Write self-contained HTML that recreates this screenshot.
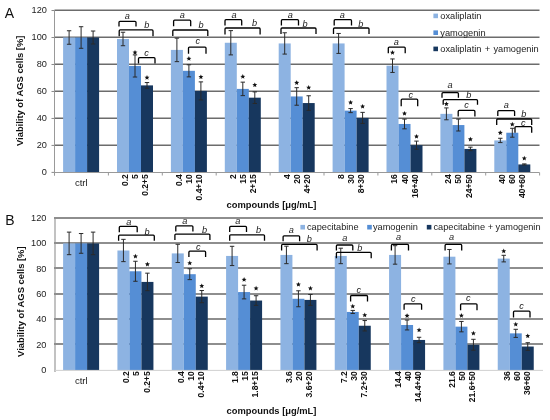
<!DOCTYPE html>
<html><head><meta charset="utf-8"><style>
html,body{margin:0;padding:0;background:#fff;}
svg{display:block;font-family:"Liberation Sans", sans-serif;will-change:transform;}
</style></head><body>
<svg width="550" height="420" viewBox="0 0 550 420">
<rect width="550" height="420" fill="#fff"/>
<text x="4.8" y="17.9" font-size="14" fill="#111">A</text>
<text x="5.2" y="224.6" font-size="14" fill="#111">B</text>
<text transform="translate(22.8,90.8) rotate(-90)" text-anchor="middle" font-size="9.4" font-weight="bold" fill="#111">Viability of AGS cells [%]</text>
<text transform="translate(23.9,301.7) rotate(-90)" text-anchor="middle" font-size="9.4" font-weight="bold" fill="#111">Viability of AGS cells [%]</text>
<text x="271.5" y="208.2" text-anchor="middle" font-size="9.35" font-weight="bold" fill="#111">compounds [μg/mL]</text>
<text x="271.5" y="413.9" text-anchor="middle" font-size="9.35" font-weight="bold" fill="#111">compounds [μg/mL]</text>

<line x1="54.5" y1="145.25" x2="539.5" y2="145.25" stroke="#6c6c6c" stroke-width="1.5"/>
<line x1="54.5" y1="118.25" x2="539.5" y2="118.25" stroke="#6c6c6c" stroke-width="1.5"/>
<line x1="54.5" y1="91.25" x2="539.5" y2="91.25" stroke="#6c6c6c" stroke-width="1.5"/>
<line x1="54.5" y1="64.25" x2="539.5" y2="64.25" stroke="#6c6c6c" stroke-width="1.5"/>
<line x1="54.5" y1="37.25" x2="539.5" y2="37.25" stroke="#6c6c6c" stroke-width="1.5"/>
<line x1="54.5" y1="10.25" x2="539.5" y2="10.25" stroke="#6c6c6c" stroke-width="1.5"/>
<text x="46.9" y="175.00" text-anchor="end" font-size="9.2" fill="#222">0</text>
<text x="46.9" y="148.02" text-anchor="end" font-size="9.2" fill="#222">20</text>
<text x="46.9" y="121.04" text-anchor="end" font-size="9.2" fill="#222">40</text>
<text x="46.9" y="94.06" text-anchor="end" font-size="9.2" fill="#222">60</text>
<text x="46.9" y="67.08" text-anchor="end" font-size="9.2" fill="#222">80</text>
<text x="46.9" y="40.10" text-anchor="end" font-size="9.2" fill="#222">100</text>
<text x="46.9" y="13.12" text-anchor="end" font-size="9.2" fill="#222">120</text>
<line x1="54.5" y1="10.5" x2="54.5" y2="175.5" stroke="#999" stroke-width="1"/><line x1="51.5" y1="172.40" x2="54.5" y2="172.40" stroke="#888" stroke-width="1"/><line x1="51.5" y1="145.42" x2="54.5" y2="145.42" stroke="#888" stroke-width="1"/><line x1="51.5" y1="118.44" x2="54.5" y2="118.44" stroke="#888" stroke-width="1"/><line x1="51.5" y1="91.46" x2="54.5" y2="91.46" stroke="#888" stroke-width="1"/><line x1="51.5" y1="64.48" x2="54.5" y2="64.48" stroke="#888" stroke-width="1"/><line x1="51.5" y1="37.50" x2="54.5" y2="37.50" stroke="#888" stroke-width="1"/><line x1="51.5" y1="10.52" x2="54.5" y2="10.52" stroke="#888" stroke-width="1"/>
<rect x="63.10" y="37.50" width="12.00" height="134.90" fill="#8DB3E2"/>
<rect x="75.10" y="37.50" width="12.00" height="134.90" fill="#558ED5"/>
<rect x="87.10" y="37.50" width="12.00" height="134.90" fill="#17375E"/>
<rect x="117.00" y="38.98" width="12.00" height="133.42" fill="#8DB3E2"/>
<rect x="129.00" y="65.96" width="12.00" height="106.44" fill="#558ED5"/>
<rect x="141.00" y="85.39" width="12.00" height="87.01" fill="#17375E"/>
<rect x="170.90" y="49.91" width="12.00" height="122.49" fill="#8DB3E2"/>
<rect x="182.90" y="70.82" width="12.00" height="101.58" fill="#558ED5"/>
<rect x="194.90" y="90.92" width="12.00" height="81.48" fill="#17375E"/>
<rect x="224.80" y="42.76" width="12.00" height="129.64" fill="#8DB3E2"/>
<rect x="236.80" y="88.90" width="12.00" height="83.50" fill="#558ED5"/>
<rect x="248.80" y="97.67" width="12.00" height="74.73" fill="#17375E"/>
<rect x="278.70" y="43.44" width="12.00" height="128.96" fill="#8DB3E2"/>
<rect x="290.70" y="96.45" width="12.00" height="75.95" fill="#558ED5"/>
<rect x="302.70" y="103.06" width="12.00" height="69.34" fill="#17375E"/>
<rect x="332.60" y="43.44" width="12.00" height="128.96" fill="#8DB3E2"/>
<rect x="344.60" y="110.62" width="12.00" height="61.78" fill="#558ED5"/>
<rect x="356.60" y="117.90" width="12.00" height="54.50" fill="#17375E"/>
<rect x="386.50" y="65.69" width="12.00" height="106.71" fill="#8DB3E2"/>
<rect x="398.50" y="123.97" width="12.00" height="48.43" fill="#558ED5"/>
<rect x="410.50" y="145.15" width="12.00" height="27.25" fill="#17375E"/>
<rect x="440.40" y="113.85" width="12.00" height="58.55" fill="#8DB3E2"/>
<rect x="452.40" y="125.05" width="12.00" height="47.35" fill="#558ED5"/>
<rect x="464.40" y="148.93" width="12.00" height="23.47" fill="#17375E"/>
<rect x="494.30" y="140.43" width="12.00" height="31.97" fill="#8DB3E2"/>
<rect x="506.30" y="132.74" width="12.00" height="39.66" fill="#558ED5"/>
<rect x="518.30" y="164.44" width="12.00" height="7.96" fill="#17375E"/>
<path d="M69.10,30.75 V44.25 M66.90,30.75 H71.30 M66.90,44.25 H71.30" stroke="#2a2a2a" stroke-width="1" fill="none"/>
<path d="M81.10,26.71 V48.29 M78.90,26.71 H83.30 M78.90,48.29 H83.30" stroke="#2a2a2a" stroke-width="1" fill="none"/>
<path d="M93.10,31.02 V43.98 M90.90,31.02 H95.30 M90.90,43.98 H95.30" stroke="#2a2a2a" stroke-width="1" fill="none"/>
<path d="M123.00,32.24 V45.73 M120.80,32.24 H125.20 M120.80,45.73 H125.20" stroke="#2a2a2a" stroke-width="1" fill="none"/>
<path d="M135.00,54.90 V77.03 M132.80,54.90 H137.20 M132.80,77.03 H137.20" stroke="#2a2a2a" stroke-width="1" fill="none"/>
<path d="M147.00,82.56 V88.22 M144.80,82.56 H149.20 M144.80,88.22 H149.20" stroke="#2a2a2a" stroke-width="1" fill="none"/>
<path d="M176.90,38.17 V61.65 M174.70,38.17 H179.10 M174.70,61.65 H179.10" stroke="#2a2a2a" stroke-width="1" fill="none"/>
<path d="M188.90,64.75 V76.89 M186.70,64.75 H191.10 M186.70,76.89 H191.10" stroke="#2a2a2a" stroke-width="1" fill="none"/>
<path d="M200.90,81.88 V99.96 M198.70,81.88 H203.10 M198.70,99.96 H203.10" stroke="#2a2a2a" stroke-width="1" fill="none"/>
<path d="M230.80,30.62 V54.90 M228.60,30.62 H233.00 M228.60,54.90 H233.00" stroke="#2a2a2a" stroke-width="1" fill="none"/>
<path d="M242.80,82.15 V95.64 M240.60,82.15 H245.00 M240.60,95.64 H245.00" stroke="#2a2a2a" stroke-width="1" fill="none"/>
<path d="M254.80,91.86 V103.47 M252.60,91.86 H257.00 M252.60,103.47 H257.00" stroke="#2a2a2a" stroke-width="1" fill="none"/>
<path d="M284.70,32.78 V54.09 M282.50,32.78 H286.90 M282.50,54.09 H286.90" stroke="#2a2a2a" stroke-width="1" fill="none"/>
<path d="M296.70,87.68 V105.22 M294.50,87.68 H298.90 M294.50,105.22 H298.90" stroke="#2a2a2a" stroke-width="1" fill="none"/>
<path d="M308.70,95.78 V110.35 M306.50,95.78 H310.90 M306.50,110.35 H310.90" stroke="#2a2a2a" stroke-width="1" fill="none"/>
<path d="M338.60,33.45 V53.42 M336.40,33.45 H340.80 M336.40,53.42 H340.80" stroke="#2a2a2a" stroke-width="1" fill="none"/>
<path d="M350.60,108.59 V112.64 M348.40,108.59 H352.80 M348.40,112.64 H352.80" stroke="#2a2a2a" stroke-width="1" fill="none"/>
<path d="M362.60,112.37 V123.43 M360.40,112.37 H364.80 M360.40,123.43 H364.80" stroke="#2a2a2a" stroke-width="1" fill="none"/>
<path d="M392.50,58.95 V72.44 M390.30,58.95 H394.70 M390.30,72.44 H394.70" stroke="#2a2a2a" stroke-width="1" fill="none"/>
<path d="M404.50,119.11 V128.83 M402.30,119.11 H406.70 M402.30,128.83 H406.70" stroke="#2a2a2a" stroke-width="1" fill="none"/>
<path d="M416.50,141.10 V149.20 M414.30,141.10 H418.70 M414.30,149.20 H418.70" stroke="#2a2a2a" stroke-width="1" fill="none"/>
<path d="M446.40,107.92 V119.79 M444.20,107.92 H448.60 M444.20,119.79 H448.60" stroke="#2a2a2a" stroke-width="1" fill="none"/>
<path d="M458.40,119.11 V130.99 M456.20,119.11 H460.60 M456.20,130.99 H460.60" stroke="#2a2a2a" stroke-width="1" fill="none"/>
<path d="M470.40,147.17 V150.68 M468.20,147.17 H472.60 M468.20,150.68 H472.60" stroke="#2a2a2a" stroke-width="1" fill="none"/>
<path d="M500.30,138.27 V142.59 M498.10,138.27 H502.50 M498.10,142.59 H502.50" stroke="#2a2a2a" stroke-width="1" fill="none"/>
<path d="M512.30,128.29 V137.19 M510.10,128.29 H514.50 M510.10,137.19 H514.50" stroke="#2a2a2a" stroke-width="1" fill="none"/>
<path d="M524.30,163.90 V164.98 M522.10,163.90 H526.50 M522.10,164.98 H526.50" stroke="#2a2a2a" stroke-width="1" fill="none"/>
<line x1="54.5" y1="172.5" x2="539.5" y2="172.5" stroke="#999" stroke-width="1"/><line x1="54.50" y1="172.5" x2="54.50" y2="175.5" stroke="#999" stroke-width="1"/><line x1="108.40" y1="172.5" x2="108.40" y2="175.5" stroke="#999" stroke-width="1"/><line x1="162.30" y1="172.5" x2="162.30" y2="175.5" stroke="#999" stroke-width="1"/><line x1="216.20" y1="172.5" x2="216.20" y2="175.5" stroke="#999" stroke-width="1"/><line x1="270.10" y1="172.5" x2="270.10" y2="175.5" stroke="#999" stroke-width="1"/><line x1="324.00" y1="172.5" x2="324.00" y2="175.5" stroke="#999" stroke-width="1"/><line x1="377.90" y1="172.5" x2="377.90" y2="175.5" stroke="#999" stroke-width="1"/><line x1="431.80" y1="172.5" x2="431.80" y2="175.5" stroke="#999" stroke-width="1"/><line x1="485.70" y1="172.5" x2="485.70" y2="175.5" stroke="#999" stroke-width="1"/><line x1="539.60" y1="172.5" x2="539.60" y2="175.5" stroke="#999" stroke-width="1"/>
<polygon points="135.00,49.90 135.69,51.55 137.47,51.70 136.11,52.86 136.53,54.60 135.00,53.67 133.47,54.60 133.89,52.86 132.53,51.70 134.31,51.55" fill="#111"/>
<polygon points="147.00,75.00 147.69,76.65 149.47,76.80 148.11,77.96 148.53,79.70 147.00,78.77 145.47,79.70 145.89,77.96 144.53,76.80 146.31,76.65" fill="#111"/>
<polygon points="188.90,56.10 189.59,57.75 191.37,57.90 190.01,59.06 190.43,60.80 188.90,59.87 187.37,60.80 187.79,59.06 186.43,57.90 188.21,57.75" fill="#111"/>
<polygon points="200.90,74.40 201.59,76.05 203.37,76.20 202.01,77.36 202.43,79.10 200.90,78.17 199.37,79.10 199.79,77.36 198.43,76.20 200.21,76.05" fill="#111"/>
<polygon points="242.80,74.10 243.49,75.75 245.27,75.90 243.91,77.06 244.33,78.80 242.80,77.87 241.27,78.80 241.69,77.06 240.33,75.90 242.11,75.75" fill="#111"/>
<polygon points="254.80,82.40 255.49,84.05 257.27,84.20 255.91,85.36 256.33,87.10 254.80,86.17 253.27,87.10 253.69,85.36 252.33,84.20 254.11,84.05" fill="#111"/>
<polygon points="296.70,80.20 297.39,81.85 299.17,82.00 297.81,83.16 298.23,84.90 296.70,83.97 295.17,84.90 295.59,83.16 294.23,82.00 296.01,81.85" fill="#111"/>
<polygon points="308.70,85.00 309.39,86.65 311.17,86.80 309.81,87.96 310.23,89.70 308.70,88.77 307.17,89.70 307.59,87.96 306.23,86.80 308.01,86.65" fill="#111"/>
<polygon points="350.60,99.90 351.29,101.55 353.07,101.70 351.71,102.86 352.13,104.60 350.60,103.67 349.07,104.60 349.49,102.86 348.13,101.70 349.91,101.55" fill="#111"/>
<polygon points="362.60,103.90 363.29,105.55 365.07,105.70 363.71,106.86 364.13,108.60 362.60,107.67 361.07,108.60 361.49,106.86 360.13,105.70 361.91,105.55" fill="#111"/>
<polygon points="392.50,50.00 393.19,51.65 394.97,51.80 393.61,52.96 394.03,54.70 392.50,53.77 390.97,54.70 391.39,52.96 390.03,51.80 391.81,51.65" fill="#111"/>
<polygon points="404.50,110.90 405.19,112.55 406.97,112.70 405.61,113.86 406.03,115.60 404.50,114.67 402.97,115.60 403.39,113.86 402.03,112.70 403.81,112.55" fill="#111"/>
<polygon points="416.50,133.90 417.19,135.55 418.97,135.70 417.61,136.86 418.03,138.60 416.50,137.67 414.97,138.60 415.39,136.86 414.03,135.70 415.81,135.55" fill="#111"/>
<polygon points="446.40,101.40 447.09,103.05 448.87,103.20 447.51,104.36 447.93,106.10 446.40,105.17 444.87,106.10 445.29,104.36 443.93,103.20 445.71,103.05" fill="#111"/>
<polygon points="470.40,136.70 471.09,138.35 472.87,138.50 471.51,139.66 471.93,141.40 470.40,140.47 468.87,141.40 469.29,139.66 467.93,138.50 469.71,138.35" fill="#111"/>
<polygon points="500.30,130.20 500.99,131.85 502.77,132.00 501.41,133.16 501.83,134.90 500.30,133.97 498.77,134.90 499.19,133.16 497.83,132.00 499.61,131.85" fill="#111"/>
<polygon points="512.30,121.80 512.99,123.45 514.77,123.60 513.41,124.76 513.83,126.50 512.30,125.57 510.77,126.50 511.19,124.76 509.83,123.60 511.61,123.45" fill="#111"/>
<polygon points="524.30,155.80 524.99,157.45 526.77,157.60 525.41,158.76 525.83,160.50 524.30,159.57 522.77,160.50 523.19,158.76 521.83,157.60 523.61,157.45" fill="#111"/>
<path d="M119.0,26.6 L119.0,22.3 Q119.0,21.3 120.0,21.3 L135.0,21.3 Q136.0,21.3 136.0,22.3 L136.0,26.6" fill="none" stroke="#000" stroke-width="1.3"/>
<text x="127.3" y="19.3" text-anchor="middle" font-size="9.2" font-style="italic" fill="#222">a</text>
<path d="M119.2,36.2 L119.2,30.9 Q119.2,29.9 120.2,29.9 L152.0,29.9 Q153.0,29.9 153.0,30.9 L153.0,36.2" fill="none" stroke="#000" stroke-width="1.3"/>
<text x="146.9" y="28.3" text-anchor="middle" font-size="9.2" font-style="italic" fill="#222">b</text>
<path d="M138.5,63.5 L138.5,58.7 Q138.5,57.7 139.5,57.7 L154.0,57.7 Q155.0,57.7 155.0,58.7 L155.0,63.5" fill="none" stroke="#000" stroke-width="1.3"/>
<text x="146.5" y="55.8" text-anchor="middle" font-size="9.2" font-style="italic" fill="#222">c</text>
<path d="M173.6,26.3 L173.6,21.2 Q173.6,20.2 174.6,20.2 L189.7,20.2 Q190.7,20.2 190.7,21.2 L190.7,26.3" fill="none" stroke="#000" stroke-width="1.3"/>
<text x="182.3" y="18.3" text-anchor="middle" font-size="9.2" font-style="italic" fill="#222">a</text>
<path d="M172.8,36.1 L172.8,31.0 Q172.8,30.0 173.8,30.0 L206.8,30.0 Q207.8,30.0 207.8,31.0 L207.8,36.1" fill="none" stroke="#000" stroke-width="1.3"/>
<text x="201.0" y="28.3" text-anchor="middle" font-size="9.2" font-style="italic" fill="#222">b</text>
<path d="M188.5,53.7 L188.5,48.1 Q188.5,47.1 189.5,47.1 L205.0,47.1 Q206.0,47.1 206.0,48.1 L206.0,53.7" fill="none" stroke="#000" stroke-width="1.3"/>
<text x="197.7" y="43.9" text-anchor="middle" font-size="9.2" font-style="italic" fill="#222">c</text>
<path d="M225.0,25.6 L225.0,20.7 Q225.0,19.7 226.0,19.7 L240.7,19.7 Q241.7,19.7 241.7,20.7 L241.7,25.6" fill="none" stroke="#000" stroke-width="1.3"/>
<text x="234.0" y="18.3" text-anchor="middle" font-size="9.2" font-style="italic" fill="#222">a</text>
<path d="M225.0,34.4 L225.0,29.0 Q225.0,28.0 226.0,28.0 L259.1,28.0 Q260.1,28.0 260.1,29.0 L260.1,34.4" fill="none" stroke="#000" stroke-width="1.3"/>
<text x="254.6" y="26.1" text-anchor="middle" font-size="9.2" font-style="italic" fill="#222">b</text>
<path d="M281.4,25.6 L281.4,20.7 Q281.4,19.7 282.4,19.7 L297.5,19.7 Q298.5,19.7 298.5,20.7 L298.5,25.6" fill="none" stroke="#000" stroke-width="1.3"/>
<text x="290.4" y="17.6" text-anchor="middle" font-size="9.2" font-style="italic" fill="#222">a</text>
<path d="M281.0,34.0 L281.0,29.0 Q281.0,28.0 282.0,28.0 L315.0,28.0 Q316.0,28.0 316.0,29.0 L316.0,34.0" fill="none" stroke="#000" stroke-width="1.3"/>
<text x="305.0" y="27.0" text-anchor="middle" font-size="9.2" font-style="italic" fill="#222">b</text>
<path d="M334.2,25.6 L334.2,20.7 Q334.2,19.7 335.2,19.7 L350.5,19.7 Q351.5,19.7 351.5,20.7 L351.5,25.6" fill="none" stroke="#000" stroke-width="1.3"/>
<text x="342.3" y="17.6" text-anchor="middle" font-size="9.2" font-style="italic" fill="#222">a</text>
<path d="M333.5,34.0 L333.5,29.0 Q333.5,28.0 334.5,28.0 L368.0,28.0 Q369.0,28.0 369.0,29.0 L369.0,34.0" fill="none" stroke="#000" stroke-width="1.3"/>
<text x="360.9" y="27.0" text-anchor="middle" font-size="9.2" font-style="italic" fill="#222">b</text>
<path d="M388.3,53.2 L388.3,48.1 Q388.3,47.1 389.3,47.1 L404.2,47.1 Q405.2,47.1 405.2,48.1 L405.2,53.2" fill="none" stroke="#000" stroke-width="1.3"/>
<text x="396.4" y="45.0" text-anchor="middle" font-size="9.2" font-style="italic" fill="#222">a</text>
<path d="M401.2,106.2 L401.2,100.2 Q401.2,99.2 402.2,99.2 L416.7,99.2 Q417.7,99.2 417.7,100.2 L417.7,106.2" fill="none" stroke="#000" stroke-width="1.3"/>
<text x="410.7" y="97.8" text-anchor="middle" font-size="9.2" font-style="italic" fill="#222">c</text>
<path d="M442.0,97.7 L442.0,93.7 Q442.0,92.7 443.0,92.7 L457.4,92.7 Q458.4,92.7 458.4,93.7 L458.4,97.7" fill="none" stroke="#000" stroke-width="1.3"/>
<text x="450.1" y="87.7" text-anchor="middle" font-size="9.2" font-style="italic" fill="#222">a</text>
<path d="M443.2,104.8 L443.2,100.7 Q443.2,99.7 444.2,99.7 L476.5,99.7 Q477.5,99.7 477.5,100.7 L477.5,104.8" fill="none" stroke="#000" stroke-width="1.3"/>
<text x="468.7" y="98.2" text-anchor="middle" font-size="9.2" font-style="italic" fill="#222">b</text>
<path d="M458.2,116.6 L458.2,111.4 Q458.2,110.4 459.2,110.4 L473.9,110.4 Q474.9,110.4 474.9,111.4 L474.9,116.6" fill="none" stroke="#000" stroke-width="1.3"/>
<text x="466.5" y="108.3" text-anchor="middle" font-size="9.2" font-style="italic" fill="#222">c</text>
<path d="M497.8,116.1 L497.8,111.6 Q497.8,110.6 498.8,110.6 L513.6,110.6 Q514.6,110.6 514.6,111.6 L514.6,116.1" fill="none" stroke="#000" stroke-width="1.3"/>
<text x="506.3" y="107.5" text-anchor="middle" font-size="9.2" font-style="italic" fill="#222">a</text>
<path d="M496.7,125.1 L496.7,120.0 Q496.7,119.0 497.7,119.0 L530.7,119.0 Q531.7,119.0 531.7,120.0 L531.7,125.1" fill="none" stroke="#000" stroke-width="1.3"/>
<text x="523.8" y="116.8" text-anchor="middle" font-size="9.2" font-style="italic" fill="#222">b</text>
<path d="M515.0,132.8 L515.0,127.6 Q515.0,126.6 516.0,126.6 L530.7,126.6 Q531.7,126.6 531.7,127.6 L531.7,132.8" fill="none" stroke="#000" stroke-width="1.3"/>
<text x="523.4" y="125.6" text-anchor="middle" font-size="9.2" font-style="italic" fill="#222">c</text>
<text x="81.3" y="186.1" text-anchor="middle" font-size="9.6" fill="#222">ctrl</text>
<text transform="translate(127.95,174.2) rotate(-90)" text-anchor="end" font-size="8.5" font-weight="bold" fill="#111">0.2</text>
<text transform="translate(138.05,174.2) rotate(-90)" text-anchor="end" font-size="8.5" font-weight="bold" fill="#111">5</text>
<text transform="translate(148.15,174.2) rotate(-90)" text-anchor="end" font-size="8.5" font-weight="bold" fill="#111">0.2+5</text>
<text transform="translate(181.85,174.2) rotate(-90)" text-anchor="end" font-size="8.5" font-weight="bold" fill="#111">0.4</text>
<text transform="translate(191.95,174.2) rotate(-90)" text-anchor="end" font-size="8.5" font-weight="bold" fill="#111">10</text>
<text transform="translate(202.05,174.2) rotate(-90)" text-anchor="end" font-size="8.5" font-weight="bold" fill="#111">0.4+10</text>
<text transform="translate(235.75,174.2) rotate(-90)" text-anchor="end" font-size="8.5" font-weight="bold" fill="#111">2</text>
<text transform="translate(245.85,174.2) rotate(-90)" text-anchor="end" font-size="8.5" font-weight="bold" fill="#111">15</text>
<text transform="translate(255.95,174.2) rotate(-90)" text-anchor="end" font-size="8.5" font-weight="bold" fill="#111">2+15</text>
<text transform="translate(289.65,174.2) rotate(-90)" text-anchor="end" font-size="8.5" font-weight="bold" fill="#111">4</text>
<text transform="translate(299.75,174.2) rotate(-90)" text-anchor="end" font-size="8.5" font-weight="bold" fill="#111">20</text>
<text transform="translate(309.85,174.2) rotate(-90)" text-anchor="end" font-size="8.5" font-weight="bold" fill="#111">4+20</text>
<text transform="translate(343.55,174.2) rotate(-90)" text-anchor="end" font-size="8.5" font-weight="bold" fill="#111">8</text>
<text transform="translate(353.65,174.2) rotate(-90)" text-anchor="end" font-size="8.5" font-weight="bold" fill="#111">30</text>
<text transform="translate(363.75,174.2) rotate(-90)" text-anchor="end" font-size="8.5" font-weight="bold" fill="#111">8+30</text>
<text transform="translate(397.45,174.2) rotate(-90)" text-anchor="end" font-size="8.5" font-weight="bold" fill="#111">16</text>
<text transform="translate(407.55,174.2) rotate(-90)" text-anchor="end" font-size="8.5" font-weight="bold" fill="#111">40</text>
<text transform="translate(417.65,174.2) rotate(-90)" text-anchor="end" font-size="8.5" font-weight="bold" fill="#111">16+40</text>
<text transform="translate(451.35,174.2) rotate(-90)" text-anchor="end" font-size="8.5" font-weight="bold" fill="#111">24</text>
<text transform="translate(461.45,174.2) rotate(-90)" text-anchor="end" font-size="8.5" font-weight="bold" fill="#111">50</text>
<text transform="translate(471.55,174.2) rotate(-90)" text-anchor="end" font-size="8.5" font-weight="bold" fill="#111">24+50</text>
<text transform="translate(505.25,174.2) rotate(-90)" text-anchor="end" font-size="8.5" font-weight="bold" fill="#111">40</text>
<text transform="translate(515.35,174.2) rotate(-90)" text-anchor="end" font-size="8.5" font-weight="bold" fill="#111">60</text>
<text transform="translate(525.45,174.2) rotate(-90)" text-anchor="end" font-size="8.5" font-weight="bold" fill="#111">40+60</text>
<line x1="55" y1="217" x2="55" y2="372" stroke="#c2c2c2" stroke-width="2"/>
<line x1="54.0" y1="344.00" x2="543.0" y2="344.00" stroke="#8e8e8e" stroke-width="2.0"/>
<line x1="54.0" y1="319.00" x2="543.0" y2="319.00" stroke="#8e8e8e" stroke-width="2.0"/>
<line x1="54.0" y1="294.00" x2="543.0" y2="294.00" stroke="#8e8e8e" stroke-width="2.0"/>
<line x1="54.0" y1="268.00" x2="543.0" y2="268.00" stroke="#8e8e8e" stroke-width="2.0"/>
<line x1="54.0" y1="243.00" x2="543.0" y2="243.00" stroke="#8e8e8e" stroke-width="2.0"/>
<line x1="54.0" y1="218.00" x2="543.0" y2="218.00" stroke="#8e8e8e" stroke-width="2.0"/>
<text x="46.4" y="373.10" text-anchor="end" font-size="9.2" fill="#222">0</text>
<text x="46.4" y="347.76" text-anchor="end" font-size="9.2" fill="#222">20</text>
<text x="46.4" y="322.42" text-anchor="end" font-size="9.2" fill="#222">40</text>
<text x="46.4" y="297.08" text-anchor="end" font-size="9.2" fill="#222">60</text>
<text x="46.4" y="271.74" text-anchor="end" font-size="9.2" fill="#222">80</text>
<text x="46.4" y="246.40" text-anchor="end" font-size="9.2" fill="#222">100</text>
<text x="46.4" y="221.06" text-anchor="end" font-size="9.2" fill="#222">120</text>

<rect x="63.10" y="243.40" width="12.00" height="126.70" fill="#8DB3E2"/>
<rect x="75.10" y="243.40" width="12.00" height="126.70" fill="#558ED5"/>
<rect x="87.10" y="243.40" width="12.00" height="126.70" fill="#17375E"/>
<rect x="117.43" y="250.50" width="12.00" height="119.60" fill="#8DB3E2"/>
<rect x="129.43" y="271.27" width="12.00" height="98.83" fill="#558ED5"/>
<rect x="141.43" y="281.92" width="12.00" height="88.18" fill="#17375E"/>
<rect x="171.76" y="253.41" width="12.00" height="116.69" fill="#8DB3E2"/>
<rect x="183.76" y="274.19" width="12.00" height="95.91" fill="#558ED5"/>
<rect x="195.76" y="296.61" width="12.00" height="73.49" fill="#17375E"/>
<rect x="226.09" y="255.94" width="12.00" height="114.16" fill="#8DB3E2"/>
<rect x="238.09" y="292.05" width="12.00" height="78.05" fill="#558ED5"/>
<rect x="250.09" y="300.54" width="12.00" height="69.56" fill="#17375E"/>
<rect x="280.42" y="254.93" width="12.00" height="115.17" fill="#8DB3E2"/>
<rect x="292.42" y="298.77" width="12.00" height="71.33" fill="#558ED5"/>
<rect x="304.42" y="299.91" width="12.00" height="70.19" fill="#17375E"/>
<rect x="334.75" y="255.94" width="12.00" height="114.16" fill="#8DB3E2"/>
<rect x="346.75" y="311.94" width="12.00" height="58.16" fill="#558ED5"/>
<rect x="358.75" y="325.75" width="12.00" height="44.34" fill="#17375E"/>
<rect x="389.08" y="254.93" width="12.00" height="115.17" fill="#8DB3E2"/>
<rect x="401.08" y="324.99" width="12.00" height="45.11" fill="#558ED5"/>
<rect x="413.08" y="339.95" width="12.00" height="30.15" fill="#17375E"/>
<rect x="443.41" y="256.70" width="12.00" height="113.40" fill="#8DB3E2"/>
<rect x="455.41" y="326.64" width="12.00" height="43.46" fill="#558ED5"/>
<rect x="467.41" y="344.76" width="12.00" height="25.34" fill="#17375E"/>
<rect x="497.74" y="258.60" width="12.00" height="111.50" fill="#8DB3E2"/>
<rect x="509.74" y="333.36" width="12.00" height="36.74" fill="#558ED5"/>
<rect x="521.74" y="346.53" width="12.00" height="23.57" fill="#17375E"/>
<path d="M69.10,232.12 V254.68 M66.90,232.12 H71.30 M66.90,254.68 H71.30" stroke="#2a2a2a" stroke-width="1" fill="none"/>
<path d="M81.10,233.52 V253.28 M78.90,233.52 H83.30 M78.90,253.28 H83.30" stroke="#2a2a2a" stroke-width="1" fill="none"/>
<path d="M93.10,232.12 V254.68 M90.90,232.12 H95.30 M90.90,254.68 H95.30" stroke="#2a2a2a" stroke-width="1" fill="none"/>
<path d="M123.43,239.35 V261.64 M121.23,239.35 H125.63 M121.23,261.64 H125.63" stroke="#2a2a2a" stroke-width="1" fill="none"/>
<path d="M135.43,261.26 V281.28 M133.23,261.26 H137.63 M133.23,281.28 H137.63" stroke="#2a2a2a" stroke-width="1" fill="none"/>
<path d="M147.43,273.17 V290.66 M145.23,273.17 H149.63 M145.23,290.66 H149.63" stroke="#2a2a2a" stroke-width="1" fill="none"/>
<path d="M177.76,244.29 V262.53 M175.56,244.29 H179.96 M175.56,262.53 H179.96" stroke="#2a2a2a" stroke-width="1" fill="none"/>
<path d="M189.76,268.74 V279.64 M187.56,268.74 H191.96 M187.56,279.64 H191.96" stroke="#2a2a2a" stroke-width="1" fill="none"/>
<path d="M201.76,290.53 V302.70 M199.56,290.53 H203.96 M199.56,302.70 H203.96" stroke="#2a2a2a" stroke-width="1" fill="none"/>
<path d="M232.09,246.31 V265.57 M229.89,246.31 H234.29 M229.89,265.57 H234.29" stroke="#2a2a2a" stroke-width="1" fill="none"/>
<path d="M244.09,285.21 V298.89 M241.89,285.21 H246.29 M241.89,298.89 H246.29" stroke="#2a2a2a" stroke-width="1" fill="none"/>
<path d="M256.09,295.73 V305.36 M253.89,295.73 H258.29 M253.89,305.36 H258.29" stroke="#2a2a2a" stroke-width="1" fill="none"/>
<path d="M286.42,246.19 V263.67 M284.22,246.19 H288.62 M284.22,263.67 H288.62" stroke="#2a2a2a" stroke-width="1" fill="none"/>
<path d="M298.42,290.79 V306.75 M296.22,290.79 H300.62 M296.22,306.75 H300.62" stroke="#2a2a2a" stroke-width="1" fill="none"/>
<path d="M310.42,294.46 V305.36 M308.22,294.46 H312.62 M308.22,305.36 H312.62" stroke="#2a2a2a" stroke-width="1" fill="none"/>
<path d="M340.75,248.21 V263.67 M338.55,248.21 H342.95 M338.55,263.67 H342.95" stroke="#2a2a2a" stroke-width="1" fill="none"/>
<path d="M352.75,310.42 V313.47 M350.55,310.42 H354.95 M350.55,313.47 H354.95" stroke="#2a2a2a" stroke-width="1" fill="none"/>
<path d="M364.75,320.56 V330.95 M362.55,320.56 H366.95 M362.55,330.95 H366.95" stroke="#2a2a2a" stroke-width="1" fill="none"/>
<path d="M395.08,245.68 V264.18 M392.88,245.68 H397.28 M392.88,264.18 H397.28" stroke="#2a2a2a" stroke-width="1" fill="none"/>
<path d="M407.08,320.05 V329.94 M404.88,320.05 H409.28 M404.88,329.94 H409.28" stroke="#2a2a2a" stroke-width="1" fill="none"/>
<path d="M419.08,337.28 V342.61 M416.88,337.28 H421.28 M416.88,342.61 H421.28" stroke="#2a2a2a" stroke-width="1" fill="none"/>
<path d="M449.41,249.48 V263.93 M447.21,249.48 H451.61 M447.21,263.93 H451.61" stroke="#2a2a2a" stroke-width="1" fill="none"/>
<path d="M461.41,321.45 V331.84 M459.21,321.45 H463.61 M459.21,331.84 H463.61" stroke="#2a2a2a" stroke-width="1" fill="none"/>
<path d="M473.41,339.31 V350.21 M471.21,339.31 H475.61 M471.21,350.21 H475.61" stroke="#2a2a2a" stroke-width="1" fill="none"/>
<path d="M503.74,255.31 V261.90 M501.54,255.31 H505.94 M501.54,261.90 H505.94" stroke="#2a2a2a" stroke-width="1" fill="none"/>
<path d="M515.74,329.30 V337.41 M513.54,329.30 H517.94 M513.54,337.41 H517.94" stroke="#2a2a2a" stroke-width="1" fill="none"/>
<path d="M527.74,342.73 V350.33 M525.54,342.73 H529.94 M525.54,350.33 H529.94" stroke="#2a2a2a" stroke-width="1" fill="none"/>
<line x1="55" y1="370.4" x2="543" y2="370.4" stroke="#d0d0d0" stroke-width="1"/>
<polygon points="135.43,253.80 136.12,255.45 137.90,255.60 136.54,256.76 136.96,258.50 135.43,257.57 133.90,258.50 134.32,256.76 132.96,255.60 134.74,255.45" fill="#111"/>
<polygon points="147.43,261.70 148.12,263.35 149.90,263.50 148.54,264.66 148.96,266.40 147.43,265.47 145.90,266.40 146.32,264.66 144.96,263.50 146.74,263.35" fill="#111"/>
<polygon points="189.76,260.60 190.45,262.25 192.23,262.40 190.87,263.56 191.29,265.30 189.76,264.37 188.23,265.30 188.65,263.56 187.29,262.40 189.07,262.25" fill="#111"/>
<polygon points="201.76,283.40 202.45,285.05 204.23,285.20 202.87,286.36 203.29,288.10 201.76,287.17 200.23,288.10 200.65,286.36 199.29,285.20 201.07,285.05" fill="#111"/>
<polygon points="244.09,277.10 244.78,278.75 246.56,278.90 245.20,280.06 245.62,281.80 244.09,280.87 242.56,281.80 242.98,280.06 241.62,278.90 243.40,278.75" fill="#111"/>
<polygon points="256.09,285.80 256.78,287.45 258.56,287.60 257.20,288.76 257.62,290.50 256.09,289.57 254.56,290.50 254.98,288.76 253.62,287.60 255.40,287.45" fill="#111"/>
<polygon points="298.42,281.90 299.11,283.55 300.89,283.70 299.53,284.86 299.95,286.60 298.42,285.67 296.89,286.60 297.31,284.86 295.95,283.70 297.73,283.55" fill="#111"/>
<polygon points="310.42,285.80 311.11,287.45 312.89,287.60 311.53,288.76 311.95,290.50 310.42,289.57 308.89,290.50 309.31,288.76 307.95,287.60 309.73,287.45" fill="#111"/>
<polygon points="352.75,303.80 353.44,305.45 355.22,305.60 353.86,306.76 354.28,308.50 352.75,307.57 351.22,308.50 351.64,306.76 350.28,305.60 352.06,305.45" fill="#111"/>
<polygon points="364.75,312.60 365.44,314.25 367.22,314.40 365.86,315.56 366.28,317.30 364.75,316.37 363.22,317.30 363.64,315.56 362.28,314.40 364.06,314.25" fill="#111"/>
<polygon points="407.08,313.20 407.77,314.85 409.55,315.00 408.19,316.16 408.61,317.90 407.08,316.97 405.55,317.90 405.97,316.16 404.61,315.00 406.39,314.85" fill="#111"/>
<polygon points="419.08,327.50 419.77,329.15 421.55,329.30 420.19,330.46 420.61,332.20 419.08,331.27 417.55,332.20 417.97,330.46 416.61,329.30 418.39,329.15" fill="#111"/>
<polygon points="461.41,313.00 462.10,314.65 463.88,314.80 462.52,315.96 462.94,317.70 461.41,316.77 459.88,317.70 460.30,315.96 458.94,314.80 460.72,314.65" fill="#111"/>
<polygon points="473.41,330.80 474.10,332.45 475.88,332.60 474.52,333.76 474.94,335.50 473.41,334.57 471.88,335.50 472.30,333.76 470.94,332.60 472.72,332.45" fill="#111"/>
<polygon points="503.74,248.60 504.43,250.25 506.21,250.40 504.85,251.56 505.27,253.30 503.74,252.37 502.21,253.30 502.63,251.56 501.27,250.40 503.05,250.25" fill="#111"/>
<polygon points="515.74,321.80 516.43,323.45 518.21,323.60 516.85,324.76 517.27,326.50 515.74,325.57 514.21,326.50 514.63,324.76 513.27,323.60 515.05,323.45" fill="#111"/>
<polygon points="527.74,333.40 528.43,335.05 530.21,335.20 528.85,336.36 529.27,338.10 527.74,337.17 526.21,338.10 526.63,336.36 525.27,335.20 527.05,335.05" fill="#111"/>
<path d="M119.3,232.3 L119.3,227.4 Q119.3,226.4 120.3,226.4 L136.2,226.4 Q137.2,226.4 137.2,227.4 L137.2,232.3" fill="none" stroke="#000" stroke-width="1.3"/>
<text x="128.9" y="225.0" text-anchor="middle" font-size="9.2" font-style="italic" fill="#222">a</text>
<path d="M118.6,240.7 L118.6,236.2 Q118.6,235.2 119.6,235.2 L153.3,235.2 Q154.3,235.2 154.3,236.2 L154.3,240.7" fill="none" stroke="#000" stroke-width="1.3"/>
<text x="147.1" y="234.5" text-anchor="middle" font-size="9.2" font-style="italic" fill="#222">b</text>
<path d="M175.8,231.5 L175.8,226.8 Q175.8,225.8 176.8,225.8 L191.9,225.8 Q192.9,225.8 192.9,226.8 L192.9,231.5" fill="none" stroke="#000" stroke-width="1.3"/>
<text x="184.8" y="223.7" text-anchor="middle" font-size="9.2" font-style="italic" fill="#222">a</text>
<path d="M174.9,240.0 L174.9,235.1 Q174.9,234.1 175.9,234.1 L208.9,234.1 Q209.9,234.1 209.9,235.1 L209.9,240.0" fill="none" stroke="#000" stroke-width="1.3"/>
<text x="204.5" y="233.0" text-anchor="middle" font-size="9.2" font-style="italic" fill="#222">b</text>
<path d="M188.9,257.1 L188.9,252.2 Q188.9,251.2 189.9,251.2 L204.6,251.2 Q205.6,251.2 205.6,252.2 L205.6,257.1" fill="none" stroke="#000" stroke-width="1.3"/>
<text x="198.3" y="249.5" text-anchor="middle" font-size="9.2" font-style="italic" fill="#222">c</text>
<path d="M229.7,231.9 L229.7,227.4 Q229.7,226.4 230.7,226.4 L245.5,226.4 Q246.5,226.4 246.5,227.4 L246.5,231.9" fill="none" stroke="#000" stroke-width="1.3"/>
<text x="237.8" y="223.7" text-anchor="middle" font-size="9.2" font-style="italic" fill="#222">a</text>
<path d="M229.7,240.7 L229.7,235.8 Q229.7,234.8 230.7,234.8 L263.5,234.8 Q264.5,234.8 264.5,235.8 L264.5,240.7" fill="none" stroke="#000" stroke-width="1.3"/>
<text x="258.6" y="233.0" text-anchor="middle" font-size="9.2" font-style="italic" fill="#222">b</text>
<path d="M283.1,241.3 L283.1,236.8 Q283.1,235.8 284.1,235.8 L298.6,235.8 Q299.6,235.8 299.6,236.8 L299.6,241.3" fill="none" stroke="#000" stroke-width="1.3"/>
<text x="291.2" y="233.1" text-anchor="middle" font-size="9.2" font-style="italic" fill="#222">a</text>
<path d="M281.6,250.5 L281.6,245.4 Q281.6,244.4 282.6,244.4 L316.1,244.4 Q317.1,244.4 317.1,245.4 L317.1,250.5" fill="none" stroke="#000" stroke-width="1.3"/>
<text x="309.4" y="242.4" text-anchor="middle" font-size="9.2" font-style="italic" fill="#222">b</text>
<path d="M336.4,250.5 L336.4,246.0 Q336.4,245.0 337.4,245.0 L351.8,245.0 Q352.8,245.0 352.8,246.0 L352.8,250.5" fill="none" stroke="#000" stroke-width="1.3"/>
<text x="344.9" y="240.8" text-anchor="middle" font-size="9.2" font-style="italic" fill="#222">a</text>
<path d="M336.4,258.2 L336.4,253.3 Q336.4,252.3 337.4,252.3 L370.2,252.3 Q371.2,252.3 371.2,253.3 L371.2,258.2" fill="none" stroke="#000" stroke-width="1.3"/>
<text x="359.8" y="251.0" text-anchor="middle" font-size="9.2" font-style="italic" fill="#222">b</text>
<path d="M350.6,301.4 L350.6,296.5 Q350.6,295.5 351.6,295.5 L366.5,295.5 Q367.5,295.5 367.5,296.5 L367.5,301.4" fill="none" stroke="#000" stroke-width="1.3"/>
<text x="358.7" y="293.3" text-anchor="middle" font-size="9.2" font-style="italic" fill="#222">c</text>
<path d="M391.4,250.5 L391.4,245.4 Q391.4,244.4 392.4,244.4 L407.5,244.4 Q408.5,244.4 408.5,245.4 L408.5,250.5" fill="none" stroke="#000" stroke-width="1.3"/>
<text x="398.6" y="240.3" text-anchor="middle" font-size="9.2" font-style="italic" fill="#222">a</text>
<path d="M404.1,309.7 L404.1,304.8 Q404.1,303.8 405.1,303.8 L420.6,303.8 Q421.6,303.8 421.6,304.8 L421.6,309.7" fill="none" stroke="#000" stroke-width="1.3"/>
<text x="413.3" y="301.5" text-anchor="middle" font-size="9.2" font-style="italic" fill="#222">c</text>
<path d="M445.1,250.5 L445.1,245.4 Q445.1,244.4 446.1,244.4 L460.7,244.4 Q461.7,244.4 461.7,245.4 L461.7,250.5" fill="none" stroke="#000" stroke-width="1.3"/>
<text x="451.6" y="240.3" text-anchor="middle" font-size="9.2" font-style="italic" fill="#222">a</text>
<path d="M460.6,310.2 L460.6,304.8 Q460.6,303.8 461.6,303.8 L476.0,303.8 Q477.0,303.8 477.0,304.8 L477.0,310.2" fill="none" stroke="#000" stroke-width="1.3"/>
<text x="468.3" y="301.3" text-anchor="middle" font-size="9.2" font-style="italic" fill="#222">c</text>
<path d="M513.5,317.4 L513.5,312.2 Q513.5,311.2 514.5,311.2 L529.0,311.2 Q530.0,311.2 530.0,312.2 L530.0,317.4" fill="none" stroke="#000" stroke-width="1.3"/>
<text x="521.6" y="308.7" text-anchor="middle" font-size="9.2" font-style="italic" fill="#222">c</text>
<text x="81.3" y="384.3" text-anchor="middle" font-size="9.6" fill="#222">ctrl</text>
<text transform="translate(129.30,371.2) rotate(-90)" text-anchor="end" font-size="8.5" font-weight="bold" fill="#111">0.2</text>
<text transform="translate(139.40,371.2) rotate(-90)" text-anchor="end" font-size="8.5" font-weight="bold" fill="#111">5</text>
<text transform="translate(149.50,371.2) rotate(-90)" text-anchor="end" font-size="8.5" font-weight="bold" fill="#111">0.2+5</text>
<text transform="translate(183.62,371.2) rotate(-90)" text-anchor="end" font-size="8.5" font-weight="bold" fill="#111">0.4</text>
<text transform="translate(193.72,371.2) rotate(-90)" text-anchor="end" font-size="8.5" font-weight="bold" fill="#111">10</text>
<text transform="translate(203.82,371.2) rotate(-90)" text-anchor="end" font-size="8.5" font-weight="bold" fill="#111">0.4+10</text>
<text transform="translate(237.96,371.2) rotate(-90)" text-anchor="end" font-size="8.5" font-weight="bold" fill="#111">1.8</text>
<text transform="translate(248.06,371.2) rotate(-90)" text-anchor="end" font-size="8.5" font-weight="bold" fill="#111">15</text>
<text transform="translate(258.16,371.2) rotate(-90)" text-anchor="end" font-size="8.5" font-weight="bold" fill="#111">1.8+15</text>
<text transform="translate(292.29,371.2) rotate(-90)" text-anchor="end" font-size="8.5" font-weight="bold" fill="#111">3.6</text>
<text transform="translate(302.39,371.2) rotate(-90)" text-anchor="end" font-size="8.5" font-weight="bold" fill="#111">20</text>
<text transform="translate(312.49,371.2) rotate(-90)" text-anchor="end" font-size="8.5" font-weight="bold" fill="#111">3.6+20</text>
<text transform="translate(346.62,371.2) rotate(-90)" text-anchor="end" font-size="8.5" font-weight="bold" fill="#111">7.2</text>
<text transform="translate(356.72,371.2) rotate(-90)" text-anchor="end" font-size="8.5" font-weight="bold" fill="#111">30</text>
<text transform="translate(366.81,371.2) rotate(-90)" text-anchor="end" font-size="8.5" font-weight="bold" fill="#111">7.2+30</text>
<text transform="translate(400.94,371.2) rotate(-90)" text-anchor="end" font-size="8.5" font-weight="bold" fill="#111">14.4</text>
<text transform="translate(411.05,371.2) rotate(-90)" text-anchor="end" font-size="8.5" font-weight="bold" fill="#111">40</text>
<text transform="translate(421.14,371.2) rotate(-90)" text-anchor="end" font-size="8.5" font-weight="bold" fill="#111">14.4+40</text>
<text transform="translate(455.27,371.2) rotate(-90)" text-anchor="end" font-size="8.5" font-weight="bold" fill="#111">21.6</text>
<text transform="translate(465.38,371.2) rotate(-90)" text-anchor="end" font-size="8.5" font-weight="bold" fill="#111">50</text>
<text transform="translate(475.47,371.2) rotate(-90)" text-anchor="end" font-size="8.5" font-weight="bold" fill="#111">21.6+50</text>
<text transform="translate(509.61,371.2) rotate(-90)" text-anchor="end" font-size="8.5" font-weight="bold" fill="#111">36</text>
<text transform="translate(519.71,371.2) rotate(-90)" text-anchor="end" font-size="8.5" font-weight="bold" fill="#111">60</text>
<text transform="translate(529.81,371.2) rotate(-90)" text-anchor="end" font-size="8.5" font-weight="bold" fill="#111">36+60</text>
<rect x="433.4" y="13.6" width="4.6" height="4.6" fill="#8DB3E2"/>
<text x="440.3" y="19.1" font-size="9.25" fill="#222">oxaliplatin</text>
<rect x="433.4" y="30.4" width="4.6" height="4.6" fill="#558ED5"/>
<text x="440.3" y="35.9" font-size="9.25" fill="#222">yamogenin</text>
<rect x="433.4" y="46.6" width="4.6" height="4.6" fill="#17375E"/>
<text x="440.3" y="52.1" font-size="9.25" word-spacing="0.7" fill="#222">oxaliplatin + yamogenin</text>
<rect x="300.4" y="224.9" width="4.6" height="4.6" fill="#8DB3E2"/>
<text x="307.0" y="230.4" font-size="9.2" fill="#222">capecitabine</text>
<rect x="367.2" y="224.9" width="4.6" height="4.6" fill="#558ED5"/>
<text x="373.0" y="230.4" font-size="9.2" fill="#222">yamogenin</text>
<rect x="426.8" y="224.9" width="4.6" height="4.6" fill="#17375E"/>
<text x="433.5" y="230.4" font-size="9.2" fill="#222">capecitabine + yamogenin</text>
</svg>
</body></html>
